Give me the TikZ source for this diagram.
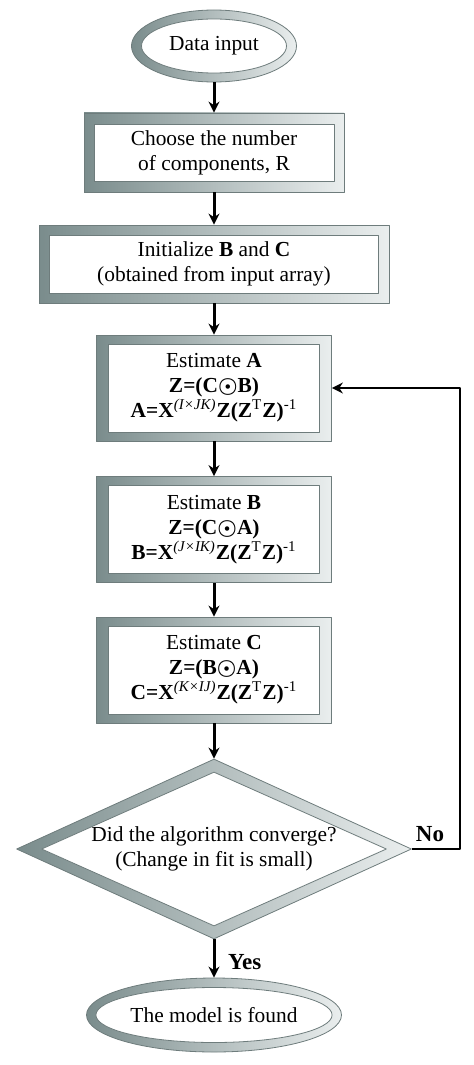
\documentclass[tikz,border=0pt]{standalone}
\usepackage{fontspec}
\setmainfont{Liberation Serif}
\usetikzlibrary{shapes.geometric,arrows.meta}
\definecolor{framedark}{RGB}{122,140,140}
\definecolor{framelight}{RGB}{234,238,238}
\definecolor{frameline}{RGB}{110,124,124}
\tikzset{
  frameout/.style={draw=frameline,line width=0.4pt,left color=framedark,right color=framelight,inner sep=0pt},
  framein/.style={draw=frameline,line width=0.4pt,fill=white,inner sep=0pt,align=center,
    font=\fontsize{10.7}{12.5}\selectfont},
  flow/.style={line width=1.5pt,-{Stealth[length=5.5pt,width=5.5pt]}},
  answer/.style={font=\fontsize{11.5}{13}\selectfont\bfseries}
}
\begin{document}
\begin{tikzpicture}[x=0.5pt,y=-0.5pt,line join=round]
  \useasboundingbox (0,0) rectangle (474,1065);
  \def\cx{214}
  \node[frameout,ellipse,minimum width=82.5pt,minimum height=36pt] (datain) at (\cx,46) {};
  \node[framein,ellipse,minimum width=72.5pt,minimum height=27pt] (datain-t) at (datain) {Data input};
  \node[frameout,minimum width=130pt,minimum height=39.5pt] (choose) at (\cx,152.5) {};
  \node[framein,minimum width=120pt,minimum height=28.5pt] (choose-t) at (choose)
    {Choose the number\\of components, R};
  \node[frameout,minimum width=175pt,minimum height=39pt] (init) at (\cx,264) {};
  \node[framein,minimum width=164.5pt,minimum height=29pt] (init-t) at (init)
    {Initialize \textbf{B} and \textbf{C}\\(obtained from input array)};
  \node[frameout,minimum width=117.5pt,minimum height=53pt] (estA) at (\cx,388) {};
  \node[framein,minimum width=105.5pt,minimum height=44pt] (estA-t) at (estA)
    {Estimate \textbf{A}\\
     \textbf{Z=(C}{\boldmath$\odot$}\textbf{B)}\\
     \textbf{A=X}\textsuperscript{\itshape(I×JK)}\textbf{Z(Z}\textsuperscript{T}\textbf{Z)}\textsuperscript{-1}};
  \node[frameout,minimum width=117.5pt,minimum height=53pt] (estB) at (\cx,529.5) {};
  \node[framein,minimum width=105.5pt,minimum height=44pt] (estB-t) at (estB)
    {Estimate \textbf{B}\\
     \textbf{Z=(C}{\boldmath$\odot$}\textbf{A)}\\
     \textbf{B=X}\textsuperscript{\itshape(J×IK)}\textbf{Z(Z}\textsuperscript{T}\textbf{Z)}\textsuperscript{-1}};
  \node[frameout,minimum width=117.5pt,minimum height=53pt] (estC) at (\cx,670) {};
  \node[framein,minimum width=105.5pt,minimum height=44pt] (estC-t) at (estC)
    {Estimate \textbf{C}\\
     \textbf{Z=(B}{\boldmath$\odot$}\textbf{A)}\\
     \textbf{C=X}\textsuperscript{\itshape(K×IJ)}\textbf{Z(Z}\textsuperscript{T}\textbf{Z)}\textsuperscript{-1}};
  \node[frameout,diamond,minimum width=197.5pt,minimum height=90pt] (conv) at (\cx,849) {};
  \node[framein,diamond,minimum width=172.5pt,minimum height=77pt] (conv-in) at (conv) {};
  \node[align=center,font=\fontsize{10.7}{12.5}\selectfont] (conv-t) at (conv)
    {Did the algorithm converge?\\(Change in fit is small)};
  \node[frameout,ellipse,minimum width=127.5pt,minimum height=37pt] (found) at (\cx,1015) {};
  \node[framein,ellipse,minimum width=117.5pt,minimum height=27.5pt] (found-t) at (found) {The model is found};
  \foreach \a/\b in {datain/choose,choose/init,init/estA,estA/estB,estB/estC,estC/conv,conv/found} {
    \draw[flow] (\a) -- (\b);
  }
  \coordinate (turn) at (460,849);
  \draw[flow,line width=1.1pt] (conv.east) -- (turn) |- (estA.east);
  \node[answer,anchor=west] (yes) at (221,962) {Yes};
  \node[answer] (no) at (430,834) {No};
\end{tikzpicture}
\end{document}
